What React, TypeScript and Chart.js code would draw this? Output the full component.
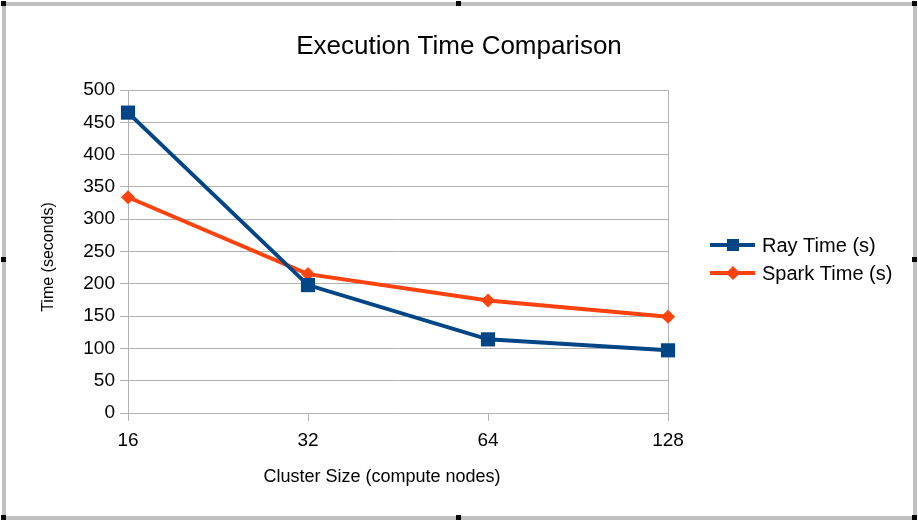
import React, { useEffect, useRef } from "react";
import { Chart, registerables } from "chart.js";

Chart.register(...registerables);

const categories = ["16", "32", "64", "128"];
const rayTime = [465, 198, 114, 97];
const sparkTime = [334, 215, 174, 149];
const seriesNames = ["Ray Time (s)", "Spark Time (s)"];
const seriesColors = ["#004586", "#ff420e"];
const chartTitle = "Execution Time Comparison";
const xAxisTitle = "Cluster Size (compute nodes)";
const yAxisTitle = "Time (seconds)";
const yMin = 0;
const yMax = 500;
const yStep = 50;

const FONT = "'Liberation Sans', Arial, sans-serif";
const GRID = "#b3b3b3";

const decorPlugin = {
  id: "decor",
  afterDraw(chart: any) {
    const ctx = chart.ctx;
    ctx.save();
    // chart title
    ctx.fillStyle = "#000";
    ctx.font = `26px ${FONT}`;
    ctx.textAlign = "center";
    ctx.textBaseline = "middle";
    ctx.fillText(chartTitle, 459, 47);

    // x axis title
    ctx.font = `18px ${FONT}`;
    ctx.fillText(xAxisTitle, 382, 477);

    // y axis title
    ctx.save();
    ctx.translate(49, 257);
    ctx.rotate(-Math.PI / 2);
    ctx.font = `16px ${FONT}`;
    ctx.fillText(yAxisTitle, 0, 0);
    ctx.restore();

    // legend
    const rows = [245, 273];
    chart.data.datasets.forEach((ds: any, i: number) => {
      const y = rows[i];
      ctx.strokeStyle = ds.borderColor;
      ctx.lineWidth = 4;
      ctx.beginPath();
      ctx.moveTo(710, y);
      ctx.lineTo(755, y);
      ctx.stroke();
      ctx.fillStyle = ds.borderColor;
      ctx.beginPath();
      if (ds.pointStyle === "rect") {
        ctx.rect(733 - 6, y - 6, 12, 12);
      } else {
        ctx.moveTo(733 - 7, y);
        ctx.lineTo(733, y - 7);
        ctx.lineTo(733 + 7, y);
        ctx.lineTo(733, y + 7);
        ctx.closePath();
      }
      ctx.fill();
      ctx.fillStyle = "#000";
      ctx.font = `20px ${FONT}`;
      ctx.textAlign = "left";
      ctx.textBaseline = "middle";
      ctx.fillText(ds.label, 762, y + 1);
    });

    // frame
    ctx.strokeStyle = "#c0c0c0";
    ctx.lineWidth = 4;
    ctx.strokeRect(4, 4, 911, 514);
    ctx.fillStyle = "#000";
    const handles = [
      [4, 4], [459, 4], [915, 4],
      [4, 260], [915, 260],
      [4, 518], [459, 518], [915, 518],
    ];
    handles.forEach(([hx, hy]) => {
      ctx.fillRect(hx - 3, hy - 3, 5, 5);
    });
    ctx.restore();
  },
};

export default function App() {
  const ref = useRef<HTMLCanvasElement | null>(null);
  useEffect(() => {
    if (!ref.current) return;
    const chart = new Chart(ref.current, {
      type: "line",
      data: {
        labels: categories,
        datasets: [
          {
            label: seriesNames[0],
            data: rayTime,
            borderColor: seriesColors[0],
            backgroundColor: seriesColors[0],
            borderWidth: 4,
            pointStyle: "rect",
            pointRadius: 10,
            pointBorderWidth: 0,
            pointBackgroundColor: seriesColors[0],
            tension: 0,
          },
          {
            label: seriesNames[1],
            data: sparkTime,
            borderColor: seriesColors[1],
            backgroundColor: seriesColors[1],
            borderWidth: 4,
            pointStyle: "rectRot",
            pointRadius: 7,
            pointBorderWidth: 0,
            pointBackgroundColor: seriesColors[1],
            tension: 0,
          },
        ],
      },
      options: {
        responsive: false,
        animation: false,
        layout: { padding: { left: 40, right: 250, top: 90, bottom: 0 } },
        plugins: {
          legend: { display: false },
          tooltip: { enabled: false },
          title: { display: false },
        },
        scales: {
          x: {
            type: "category",
            offset: false,
            afterFit: (s: any) => { s.height = 108; },
            grid: {
              drawOnChartArea: true,
              color: (c: any) => (c.index === 0 || c.index === categories.length - 1 ? GRID : "rgba(0,0,0,0)"),
              tickColor: GRID,
              tickLength: 8,
            },
            border: { color: GRID },
            ticks: {
              color: "#000",
              font: { family: FONT, size: 19 },
              padding: 8,
              maxRotation: 0,
            },
            title: { display: false },
          },
          y: {
            min: yMin,
            max: yMax,
            afterFit: (s: any) => { s.width = 88; },
            ticks: {
              stepSize: yStep,
              color: "#000",
              font: { family: FONT, size: 19 },
              padding: 5,
            },
            grid: { color: GRID, tickColor: GRID, tickLength: 8 },
            border: { color: GRID },
            title: { display: false },
          },
        },
      },
      plugins: [decorPlugin],
    });
    return () => chart.destroy();
  }, []);
  return (
    <div style={{ position: "absolute", left: 0, top: 0, width: 918, height: 521, background: "#fff" }}>
      <canvas ref={ref} width={918} height={521} style={{ display: "block" }} />
    </div>
  );
}
